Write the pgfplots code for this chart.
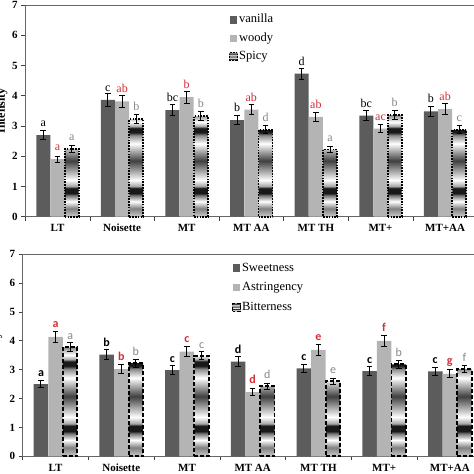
\documentclass[border=0pt]{standalone}
\usepackage{pgfplots}
\usepackage{pgfplotstable}
\pgfplotsset{compat=1.18}
\usepackage{fontspec}
\setmainfont{Liberation Serif}
\newfontfamily\carlito{Carlito}

\definecolor{darkbar}{RGB}{92,92,92}
\definecolor{lightbar}{RGB}{180,180,180}
\definecolor{lettred}{RGB}{212,45,55}
\definecolor{lettgray}{RGB}{135,135,135}

% banded, cylinder-like fill of the third series (stops 25bp..75bp span the bar)
\pgfdeclareverticalshading{bands}{100bp}{%
  color(0bp)=(black!20); color(25bp)=(black!20);
  color(29bp)=(black!50); color(32.5bp)=(white);
  color(35.5bp)=(black!55); color(36.5bp)=(black!90);
  color(39bp)=(black!90); color(40bp)=(black!35);
  color(43bp)=(white); color(52.5bp)=(black!75);
  color(61bp)=(white); color(65bp)=(black!45);
  color(66.5bp)=(black!90); color(68.5bp)=(black!90);
  color(69.5bp)=(black!35); color(71.5bp)=(white);
  color(75bp)=(black!45); color(100bp)=(black!45)}

% aroma: mean, error, letter for each attribute
\pgfplotstableread{
i  va   ev   lv  wo   ew   lw  sp   es   ls
0  2.70 0.15 a   1.90 0.10 a   2.25 0.12 a
1  3.86 0.20 c   3.81 0.20 ab  3.22 0.15 b
2  3.52 0.18 bc  3.95 0.20 b   3.32 0.15 b
3  3.19 0.15 b   3.54 0.17 ab  2.87 0.13 d
4  4.73 0.18 d   3.30 0.15 ab  2.22 0.09 a
5  3.34 0.16 bc  2.91 0.14 ac  3.36 0.15 b
6  3.48 0.16 b   3.56 0.17 ab  2.87 0.13 c
}\aroma

% taste: mean, error, letter for each attribute
\pgfplotstableread{
i  sw   es   ls  as   ea   la  bi   eb   lb
0  2.50 0.13 a   4.13 0.20 a   3.77 0.16 a
1  3.52 0.17 b   3.02 0.17 b   3.22 0.13 b
2  2.98 0.16 c   3.62 0.18 c   3.48 0.14 c
3  3.28 0.17 d   2.22 0.12 d   2.42 0.10 d
4  3.04 0.15 c   3.68 0.18 e   2.60 0.10 e
5  2.95 0.15 c   3.99 0.20 f   3.18 0.13 b
6  2.94 0.15 c   2.85 0.14 g   3.02 0.11 f
}\taste

\pgfplotsset{
  squareleg/.style={legend image code/.code={\fill[##1] (0pt,-3.8pt) rectangle (7.6pt,3.8pt);}},
  bandleg/.style={legend image code/.code={\draw[##1, line width=0.8pt] (0pt,-4pt) rectangle (8pt,4pt);}},
  panel/.style={
    scale only axis, anchor=south west, clip=false,
    xmin=-0.5, xmax=6.5, ymin=0, ymax=7,
    xtick={0,...,6},
    xticklabels={LT,Noisette,MT,MT AA,MT TH,MT+,MT+AA},
    minor xtick={-0.5,0.5,...,6.5},
    ytick={0,...,7},
    tick pos=left, tick align=outside,
    major tick length=4pt, minor tick length=4pt,
    major x tick style={draw=none},
    minor x tick style={black!75, line width=0.6pt},
    ytick style={black!75, line width=0.6pt},
    axis line style={black!60, line width=0.7pt},
    /pgf/number format/assume math mode=true,
    tick label style={font=\bfseries\fontsize{11}{13}\selectfont},
    ylabel style={font=\bfseries\fontsize{12}{14}\selectfont, anchor=base},
    legend cell align=left,
  },
  errs/.style={error bars/.cd, y dir=both, y explicit,
    error bar style={solid, black, line width=1pt},
    error mark options={rotate=90, mark size=2.8pt, line width=1pt, black, solid}},
  lettered/.style n args={2}{nodes near coords, point meta=explicit symbolic,
    nodes near coords align={anchor=base},
    every node near coord/.append style={yshift=#1, font=#2}},
}

\begin{document}
\begin{tikzpicture}

% ---------------- aroma attributes ----------------
\begin{axis}[panel, at={(25.2pt,257.3pt)}, width=452.2pt, height=211.7pt,
  ylabel={Intensity},
  ylabel style={at={(axis description cs:-0.0447,0.5)}},
  legend style={draw=none, fill=none, at={(0.451,0.964)}, anchor=north west,
    font=\fontsize{12.5}{14}\selectfont, row sep=4.5pt, inner sep=0pt,
    nodes={inner sep=1pt, text height=9pt, text depth=3pt}}]

\addplot[ybar, bar width=14pt, bar shift=0pt, fill=darkbar, draw=none, squareleg,
  lettered={8.5pt}{\fontsize{12}{12}\selectfont\color{black}}, errs]
  table[x expr=\thisrow{i}-0.22, y=va, y error=ev, meta=lv] {\aroma};
\addlegendentry{vanilla}

\addplot[ybar, bar width=14pt, bar shift=0pt, fill=lightbar, draw=none, squareleg,
  lettered={8.5pt}{\fontsize{12}{12}\selectfont\color{lettred}}, errs]
  table[x=i, y=wo, y error=ew, meta=lw] {\aroma};
\addlegendentry{woody}

\addplot[ybar, bar width=14pt, bar shift=0pt, draw=black, shade, shading=bands,
  line width=1.8pt, dash pattern=on 1.6pt off 1.2pt, bandleg]
  table[x expr=\thisrow{i}+0.22, y=sp] {\aroma};
\addlegendentry{Spicy}

\addplot[ybar, bar width=14pt, bar shift=0pt, draw=none, fill=none, forget plot,
  lettered={8.5pt}{\fontsize{12}{12}\selectfont\color{lettgray}}, errs]
  table[x expr=\thisrow{i}+0.22, y=sp, y error=es, meta=ls] {\aroma};
\end{axis}

% ---------------- taste attributes ----------------
\begin{axis}[panel, at={(22.7pt,17.7pt)}, width=460pt, height=202.3pt,
  ylabel={Intensity},
  ylabel style={at={(axis description cs:-0.05,0.5)}},
  legend style={draw=none, fill=none, at={(0.455,0.966)}, anchor=north west,
    font=\fontsize{12.5}{14}\selectfont, row sep=5.5pt, inner sep=0pt,
    nodes={inner sep=1pt, text height=9pt, text depth=3pt}}]

\addplot[ybar, bar width=14.5pt, bar shift=0pt, fill=darkbar, draw=none, squareleg,
  lettered={8pt}{\carlito\bfseries\fontsize{12}{12}\selectfont\color{black}}, errs]
  table[x expr=\thisrow{i}-0.222, y=sw, y error=es, meta=ls] {\taste};
\addlegendentry{Sweetness}

\addplot[ybar, bar width=14.5pt, bar shift=0pt, fill=lightbar, draw=none, squareleg,
  lettered={9pt}{\carlito\bfseries\fontsize{12}{12}\selectfont\color{lettred}}, errs]
  table[x=i, y=as, y error=ea, meta=la] {\taste};
\addlegendentry{Astringency}

\addplot[ybar, bar width=14.5pt, bar shift=0pt, draw=black, shade, shading=bands,
  line width=1.9pt, dash pattern=on 4pt off 2pt, bandleg]
  table[x expr=\thisrow{i}+0.222, y=bi] {\taste};
\addlegendentry{Bitterness}

\addplot[ybar, bar width=14.5pt, bar shift=0pt, draw=none, fill=none, forget plot,
  lettered={7.5pt}{\carlito\fontsize{12}{12}\selectfont\color{lettgray}}, errs]
  table[x expr=\thisrow{i}+0.222, y=bi, y error=eb, meta=lb] {\taste};
\end{axis}

\pgfresetboundingbox
\path[use as bounding box] (0,0) rectangle (474pt,474pt);
\end{tikzpicture}
\end{document}
